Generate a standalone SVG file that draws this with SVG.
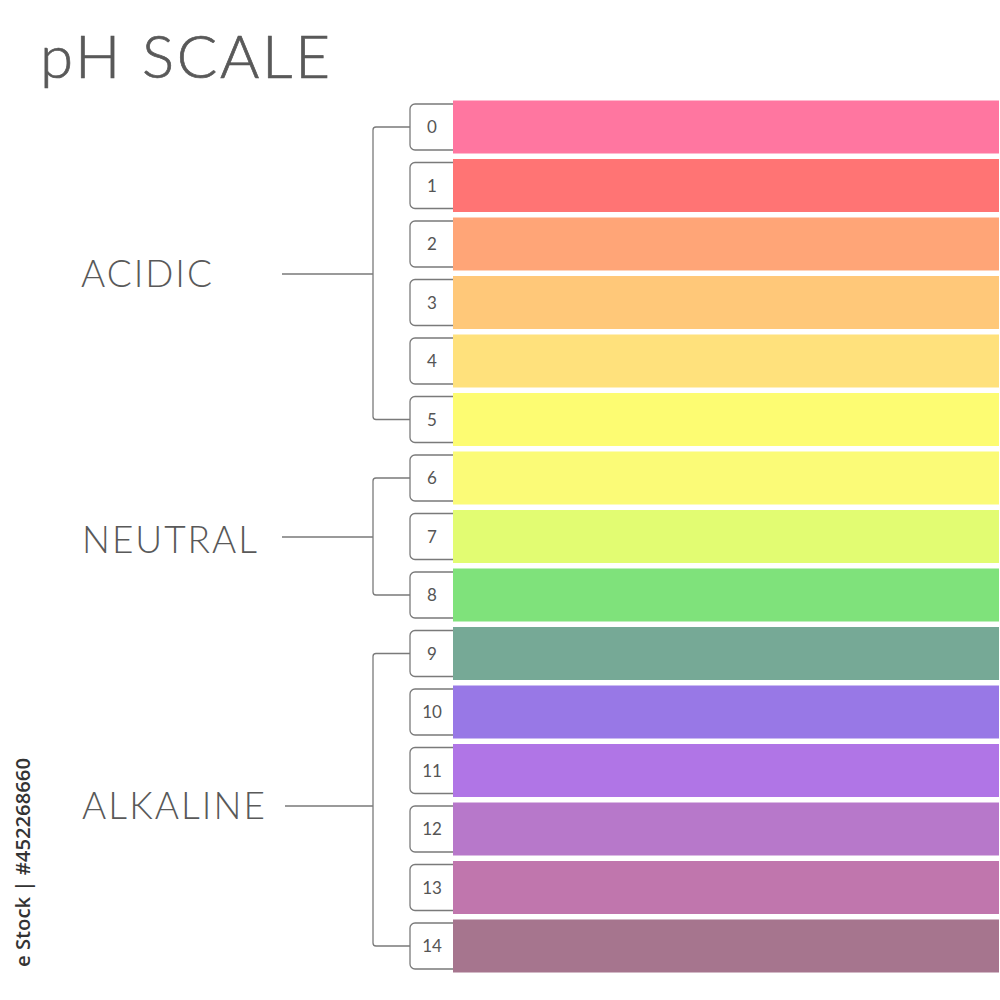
<svg xmlns="http://www.w3.org/2000/svg" width="1000" height="1000" viewBox="0 0 1000 1000">
<style>
.t{font-family:Lato,"Liberation Sans",sans-serif;fill:#595959}
.title{font-size:60px;font-weight:300;stroke:#595959;stroke-width:0.7}
.grp{font-size:37px;font-weight:300}
.num{font-size:17px;text-anchor:middle;fill:#555}
.box{fill:#fff;stroke:#7a7a7a;stroke-width:1.3}
.ln{fill:none;stroke:#7a7a7a;stroke-width:1.3}
.wm{font-family:"Open Sans","Liberation Sans",sans-serif;font-size:20.5px;fill:#333;font-weight:600}
</style>
<rect width="1000" height="1000" fill="#fff"/>
<text class="t title" x="40" y="78" textLength="290" lengthAdjust="spacing">pH SCALE</text>
<g id="label-acidic"><text class="t grp" x="81" y="287" textLength="131" lengthAdjust="spacing">ACIDIC</text></g>
<g id="label-neutral"><text class="t grp" x="82" y="553" textLength="175" lengthAdjust="spacing">NEUTRAL</text></g>
<g id="label-alkaline"><text class="t grp" x="82" y="819" textLength="183" lengthAdjust="spacing">ALKALINE</text></g>
<g id="connectors">
<path class="ln" d="M410,127 H376 Q373,127 373,130 V416.5 Q373,419.5 376,419.5 H410 M282,274 H373"/>
<path class="ln" d="M410,478 H376 Q373,478 373,481 V592 Q373,595 376,595 H410 M282,537 H373"/>
<path class="ln" d="M410,653.5 H376 Q373,653.5 373,656.5 V943 Q373,946 376,946 H410 M285,806 H373"/>
</g>
<g id="ph0"><rect x="453" y="100.5" width="546" height="53" fill="#FF76A0"/><path class="box" d="M453,104 H415 A5,5 0 0 0 410,109 V145 A5,5 0 0 0 415,150 H453"/><text class="t num" x="432" y="133">0</text></g>
<g id="ph1"><rect x="453" y="159" width="546" height="53" fill="#FF7474"/><path class="box" d="M453,162.5 H415 A5,5 0 0 0 410,167.5 V203.5 A5,5 0 0 0 415,208.5 H453"/><text class="t num" x="432" y="191.5">1</text></g>
<g id="ph2"><rect x="453" y="217.5" width="546" height="53" fill="#FFA577"/><path class="box" d="M453,221 H415 A5,5 0 0 0 410,226 V262 A5,5 0 0 0 415,267 H453"/><text class="t num" x="432" y="250">2</text></g>
<g id="ph3"><rect x="453" y="276" width="546" height="53" fill="#FFC879"/><path class="box" d="M453,279.5 H415 A5,5 0 0 0 410,284.5 V320.5 A5,5 0 0 0 415,325.5 H453"/><text class="t num" x="432" y="308.5">3</text></g>
<g id="ph4"><rect x="453" y="334.5" width="546" height="53" fill="#FFE17C"/><path class="box" d="M453,338 H415 A5,5 0 0 0 410,343 V379 A5,5 0 0 0 415,384 H453"/><text class="t num" x="432" y="367">4</text></g>
<g id="ph5"><rect x="453" y="393" width="546" height="53" fill="#FDFC72"/><path class="box" d="M453,396.5 H415 A5,5 0 0 0 410,401.5 V437.5 A5,5 0 0 0 415,442.5 H453"/><text class="t num" x="432" y="425.5">5</text></g>
<g id="ph6"><rect x="453" y="451.5" width="546" height="53" fill="#FBFB77"/><path class="box" d="M453,455 H415 A5,5 0 0 0 410,460 V496 A5,5 0 0 0 415,501 H453"/><text class="t num" x="432" y="484">6</text></g>
<g id="ph7"><rect x="453" y="510" width="546" height="53" fill="#E2FC72"/><path class="box" d="M453,513.5 H415 A5,5 0 0 0 410,518.5 V554.5 A5,5 0 0 0 415,559.5 H453"/><text class="t num" x="432" y="542.5">7</text></g>
<g id="ph8"><rect x="453" y="568.5" width="546" height="53" fill="#7FE27B"/><path class="box" d="M453,572 H415 A5,5 0 0 0 410,577 V613 A5,5 0 0 0 415,618 H453"/><text class="t num" x="432" y="601">8</text></g>
<g id="ph9"><rect x="453" y="627" width="546" height="53" fill="#76A996"/><path class="box" d="M453,630.5 H415 A5,5 0 0 0 410,635.5 V671.5 A5,5 0 0 0 415,676.5 H453"/><text class="t num" x="432" y="659.5">9</text></g>
<g id="ph10"><rect x="453" y="685.5" width="546" height="53" fill="#9878E6"/><path class="box" d="M453,689 H415 A5,5 0 0 0 410,694 V730 A5,5 0 0 0 415,735 H453"/><text class="t num" x="432" y="718">10</text></g>
<g id="ph11"><rect x="453" y="744" width="546" height="53" fill="#B075E6"/><path class="box" d="M453,747.5 H415 A5,5 0 0 0 410,752.5 V788.5 A5,5 0 0 0 415,793.5 H453"/><text class="t num" x="432" y="776.5">11</text></g>
<g id="ph12"><rect x="453" y="802.5" width="546" height="53" fill="#B778CA"/><path class="box" d="M453,806 H415 A5,5 0 0 0 410,811 V847 A5,5 0 0 0 415,852 H453"/><text class="t num" x="432" y="835">12</text></g>
<g id="ph13"><rect x="453" y="861" width="546" height="53" fill="#C076AD"/><path class="box" d="M453,864.5 H415 A5,5 0 0 0 410,869.5 V905.5 A5,5 0 0 0 415,910.5 H453"/><text class="t num" x="432" y="893.5">13</text></g>
<g id="ph14"><rect x="453" y="919.5" width="546" height="53" fill="#A6758E"/><path class="box" d="M453,923 H415 A5,5 0 0 0 410,928 V964 A5,5 0 0 0 415,969 H453"/><text class="t num" x="432" y="952">14</text></g>
<text class="wm" transform="translate(30,967) rotate(-90)" textLength="209" lengthAdjust="spacingAndGlyphs">e Stock | #452268660</text>
</svg>
